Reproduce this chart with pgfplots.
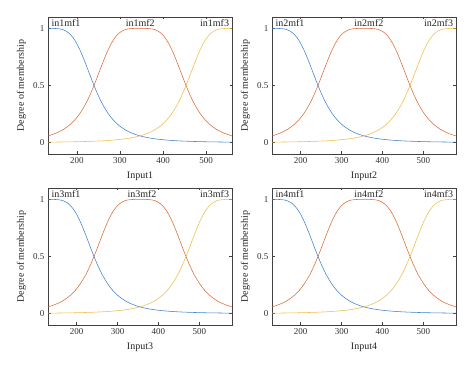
\documentclass[border=0pt]{standalone}
\usepackage{fontspec}
\setmainfont{Liberation Serif}
\usepackage{pgfplots}
\pgfplotsset{compat=1.18}
\usepackage{pgfplotstable}
\definecolor{mfblue}{rgb}{0.25,0.50,0.80}
\definecolor{mforange}{rgb}{0.86,0.42,0.20}
\definecolor{mfyellow}{rgb}{0.94,0.74,0.28}
\pgfplotstableread{
k x1 x2 m1 m2 m3
0 133.00 130.00 1.0000 0.0588 0.0039
1 143.68 141.25 0.9999 0.0713 0.0043
2 154.35 152.50 0.9984 0.0870 0.0048
3 165.03 163.75 0.9920 0.1069 0.0053
4 175.70 175.00 0.9750 0.1324 0.0059
5 186.38 186.25 0.9412 0.1649 0.0066
6 197.05 197.50 0.8853 0.2065 0.0074
7 207.73 208.75 0.8064 0.2593 0.0084
8 218.40 220.00 0.7094 0.3254 0.0094
9 229.08 231.25 0.6038 0.4058 0.0107
10 239.75 242.50 0.5000 0.5000 0.0122
11 250.43 253.75 0.4058 0.6038 0.0139
12 261.10 265.00 0.3254 0.7094 0.0160
13 271.78 276.25 0.2593 0.8064 0.0185
14 282.45 287.50 0.2065 0.8853 0.0214
15 293.13 298.75 0.1649 0.9412 0.0250
16 303.80 310.00 0.1324 0.9750 0.0292
17 314.48 321.25 0.1069 0.9920 0.0345
18 325.15 332.50 0.0870 0.9984 0.0409
19 335.83 343.75 0.0713 0.9999 0.0489
20 346.50 355.00 0.0588 1.0000 0.0588
21 357.18 366.25 0.0489 0.9999 0.0713
22 367.85 377.50 0.0409 0.9984 0.0870
23 378.53 388.75 0.0345 0.9920 0.1069
24 389.20 400.00 0.0292 0.9750 0.1324
25 399.88 411.25 0.0250 0.9412 0.1649
26 410.55 422.50 0.0214 0.8853 0.2065
27 421.23 433.75 0.0185 0.8064 0.2593
28 431.90 445.00 0.0160 0.7094 0.3254
29 442.58 456.25 0.0139 0.6038 0.4058
30 453.25 467.50 0.0122 0.5000 0.5000
31 463.93 478.75 0.0107 0.4058 0.6038
32 474.60 490.00 0.0094 0.3254 0.7094
33 485.28 501.25 0.0084 0.2593 0.8064
34 495.95 512.50 0.0074 0.2065 0.8853
35 506.63 523.75 0.0066 0.1649 0.9412
36 517.30 535.00 0.0059 0.1324 0.9750
37 527.98 546.25 0.0053 0.1069 0.9920
38 538.65 557.50 0.0048 0.0870 0.9984
39 549.33 568.75 0.0043 0.0713 0.9999
40 560.00 580.00 0.0039 0.0588 1.0000
}\mftable
\tikzset{mflab/.style={font=\fontsize{10}{11}\selectfont, text=black!85, inner sep=0pt}}
\pgfplotsset{
  mfaxis/.style={
    scale only axis, width=184pt, height=137pt,
    anchor=south west,
    ymin=-0.1, ymax=1.1,
    ytick={0,0.5,1}, yticklabels={0,0.5,1},
    xtick={200,300,400,500},
    /pgf/number format/assume math mode=true,
    tick align=inside, xtick pos=both, ytick pos=both,
    major tick length=2.5pt,
    tick style={black!75, line width=0.4pt},
    axis line style={black!75, line width=0.5pt},
    tick label style={font=\fontsize{9}{10}\selectfont, text=black!80},
    label style={font=\fontsize{10}{11}\selectfont, text=black!85},
    ylabel={Degree of membership},
    ylabel style={at={(axis description cs:-0.145,0.5)}, anchor=center},
    xlabel style={at={(axis description cs:0.5,-0.16)}, anchor=center},
    every axis plot/.append style={line width=0.55pt, smooth, no markers},
  },
}
\begin{document}
\begin{tikzpicture}
\path[fill=white, use as bounding box] (0pt,0pt) rectangle (474pt,369pt);
% Panel 1
\begin{axis}[mfaxis, at={(48pt,215pt)}, xmin=133, xmax=560, xlabel={Input1}]
\addplot[mfblue] table[x=x1, y=m1] {\mftable};
\addplot[mforange] table[x=x1, y=m2] {\mftable};
\addplot[mfyellow] table[x=x1, y=m3] {\mftable};
\node[mflab, anchor=base west] at (rel axis cs:0.018,0.929) {in1mf1};
\node[mflab, anchor=base] at (axis cs:347,1.015) {in1mf2};
\node[mflab, anchor=base east] at (rel axis cs:0.985,0.929) {in1mf3};
\end{axis}
% Panel 2
\begin{axis}[mfaxis, at={(272pt,215pt)}, xmin=130, xmax=580, xlabel={Input2}]
\addplot[mfblue] table[x=x2, y=m1] {\mftable};
\addplot[mforange] table[x=x2, y=m2] {\mftable};
\addplot[mfyellow] table[x=x2, y=m3] {\mftable};
\node[mflab, anchor=base west] at (rel axis cs:0.018,0.929) {in2mf1};
\node[mflab, anchor=base] at (axis cs:367,1.015) {in2mf2};
\node[mflab, anchor=base east] at (rel axis cs:0.985,0.929) {in2mf3};
\end{axis}
% Panel 3
\begin{axis}[mfaxis, at={(48pt,44pt)}, xmin=130, xmax=580, xlabel={Input3}]
\addplot[mfblue] table[x=x2, y=m1] {\mftable};
\addplot[mforange] table[x=x2, y=m2] {\mftable};
\addplot[mfyellow] table[x=x2, y=m3] {\mftable};
\node[mflab, anchor=base west] at (rel axis cs:0.018,0.929) {in3mf1};
\node[mflab, anchor=base] at (axis cs:360,1.015) {in3mf2};
\node[mflab, anchor=base east] at (rel axis cs:0.985,0.929) {in3mf3};
\end{axis}
% Panel 4
\begin{axis}[mfaxis, at={(272pt,44pt)}, xmin=130, xmax=580, xlabel={Input4}]
\addplot[mfblue] table[x=x2, y=m1] {\mftable};
\addplot[mforange] table[x=x2, y=m2] {\mftable};
\addplot[mfyellow] table[x=x2, y=m3] {\mftable};
\node[mflab, anchor=base west] at (rel axis cs:0.018,0.929) {in4mf1};
\node[mflab, anchor=base] at (axis cs:367,1.015) {in4mf2};
\node[mflab, anchor=base east] at (rel axis cs:0.985,0.929) {in4mf3};
\end{axis}
\end{tikzpicture}
\end{document}
